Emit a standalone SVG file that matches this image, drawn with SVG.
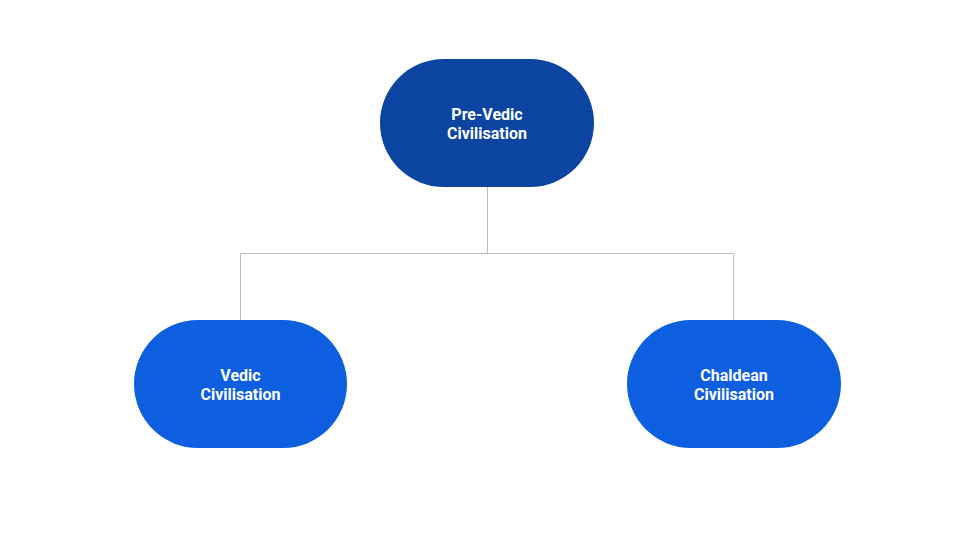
<svg xmlns="http://www.w3.org/2000/svg" width="960" height="540" viewBox="0 0 960 540">
<style>
.node{stroke:none}
.root{fill:#0B45A1}
.child{fill:#0D5FDF}
.lbl{font-family:Roboto,"Liberation Sans",sans-serif;font-weight:700;font-size:16px;fill:#FFFFFF;text-anchor:middle}
.conn{fill:none;stroke:#BDBDBD;stroke-width:1}
</style>
<rect width="960" height="540" fill="#FFFFFF"/>
<g id="connectors">
<path class="conn" d="M487.5 187 V253.5 M240.5 320 V253.5 H733.5 V320"/>
</g>
<g id="node-previdic">
<rect class="node root" x="380" y="59" width="214" height="128" rx="64" ry="64"/>
<text class="lbl" x="487" y="120">Pre-Vedic</text>
<text class="lbl" x="487" y="139">Civilisation</text>
</g>
<g id="node-vedic">
<rect class="node child" x="134" y="320" width="213" height="128" rx="64" ry="64"/>
<text class="lbl" x="240.5" y="381">Vedic</text>
<text class="lbl" x="240.5" y="400">Civilisation</text>
</g>
<g id="node-chaldean">
<rect class="node child" x="627" y="320" width="214" height="128" rx="64" ry="64"/>
<text class="lbl" x="734" y="381">Chaldean</text>
<text class="lbl" x="734" y="400">Civilisation</text>
</g>
</svg>
